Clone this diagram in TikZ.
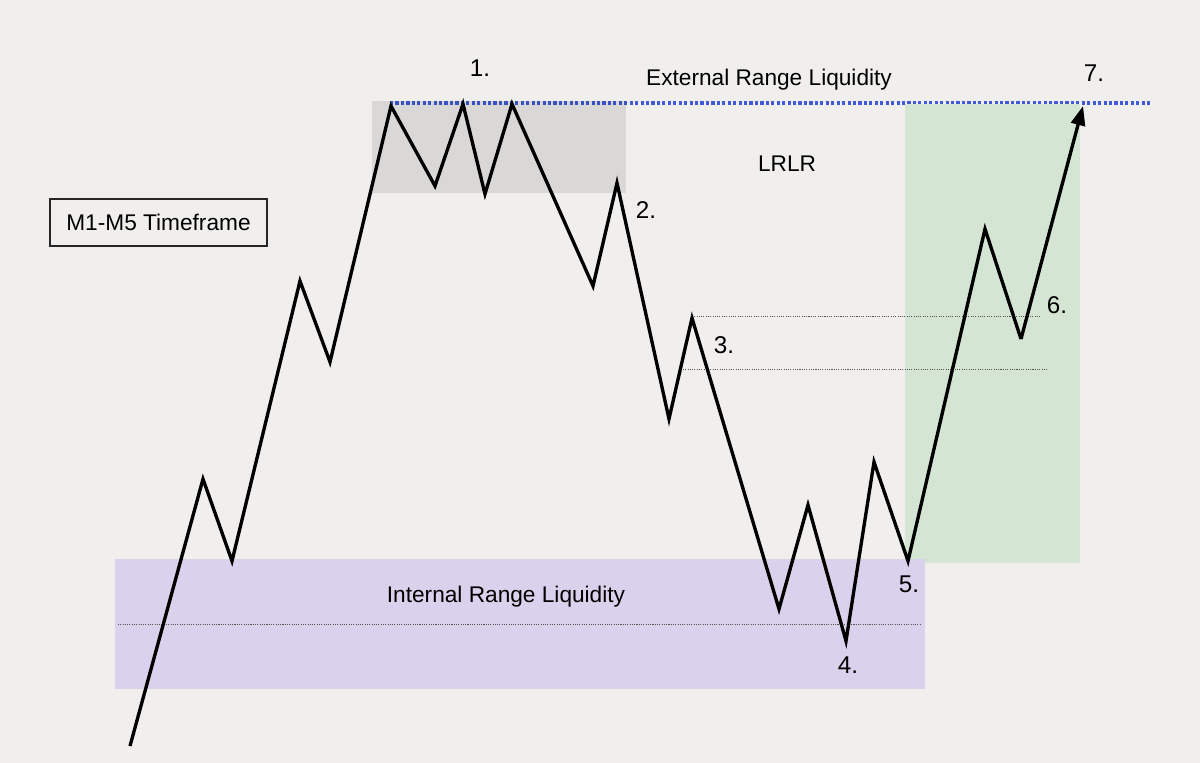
\documentclass[tikz,border=0pt]{standalone}
\usepackage{fontspec}
\setmainfont{Liberation Sans}
\usetikzlibrary{arrows.meta}
\definecolor{bg}{HTML}{F0EFED}
\definecolor{grayzone}{HTML}{DADAD9}
\definecolor{greenzone}{HTML}{D5E5D3}
\definecolor{purplezone}{HTML}{DAD2EC}
\definecolor{liqblue}{HTML}{3F5BD6}
\definecolor{thindot}{HTML}{555555}
\tikzset{
  lbl/.style={font=\fontsize{12.9}{15}\selectfont, text=black, inner sep=0pt},
  numlbl/.style={font=\fontsize{13.8}{16}\selectfont, text=black, inner sep=0pt},
  price/.style={line width=1.9pt, line join=miter, draw=black},
  extline/.style={draw=liqblue, line width=1.8pt, dash pattern=on 1.8pt off 1.3pt},
  levelline/.style={draw=thindot, line width=0.55pt, dash pattern=on 0.6pt off 0.7pt},
  framebox/.style={draw=black!85, line width=1pt, minimum width=217*0.02cm, minimum height=47*0.02cm, font=\fontsize{12.9}{15}\selectfont}
}
\begin{document}
\begin{tikzpicture}[x=0.02cm, y=-0.02cm]
\useasboundingbox (0,0) rectangle (1200,763);
\fill[bg] (0,0) rectangle (1200,763);
% external liquidity line
\coordinate (ela) at (390,103); \coordinate (elb) at (1150,103);
\draw[extline] (ela) -- (elb);
% zones
\fill[black, opacity=0.095] (372,101) rectangle (626,193);
\fill[greenzone] (905,104.5) rectangle (1080,563);
\fill[purplezone] (115,559) rectangle (925,689);
% level lines
\coordinate (l3a) at (692,316); \coordinate (l3b) at (1040,316);
\coordinate (l3c) at (683,369); \coordinate (l3d) at (1047,369);
\coordinate (ila) at (118,624); \coordinate (ilb) at (920,624);
\draw[levelline] (l3a) -- (l3b);
\draw[levelline] (l3c) -- (l3d);
\draw[levelline] (ila) -- (ilb);
% price path
\coordinate (p0) at (130,746);
\coordinate (p1) at (203,479);
\coordinate (p2) at (232,561);
\coordinate (p3) at (300,281);
\coordinate (p4) at (330,362);
\coordinate (p5) at (391,106);
\coordinate (p6) at (435,186);
\coordinate (p7) at (463,104);
\coordinate (p8) at (485,194);
\coordinate (p9) at (512,104);
\coordinate (p10) at (593,286);
\coordinate (p11) at (617,183);
\coordinate (p12) at (669,419);
\coordinate (p13) at (692,318);
\coordinate (p14) at (779,609);
\coordinate (p15) at (808,505);
\coordinate (p16) at (846,641);
\coordinate (p17) at (874,462);
\coordinate (p18) at (908,561);
\coordinate (p19) at (985,229);
\coordinate (p20) at (1021,339);
\coordinate (p21) at (1083,106);
\draw[price] (p0) -- (p1) -- (p2) -- (p3) -- (p4) -- (p5) -- (p6) -- (p7) -- (p8) -- (p9) -- (p10) -- (p11) -- (p12) -- (p13) -- (p14) -- (p15) -- (p16) -- (p17) -- (p18) -- (p19) -- (p20);
\draw[price, -{Triangle[length=11pt, width=8pt]}] (p20) -- (p21);
% labels
\node[numlbl] (n1) at (480,68) {1.};
\node[lbl] (ext) at (769,80) {External Range Liquidity};
\node[numlbl] (n7) at (1094,73) {7.};
\node[lbl] (lrlr) at (787,164) {LRLR};
\node[numlbl] (n2) at (646,210) {2.};
\node[framebox] (tf) at (158.5,222.5) {M1-M5 Timeframe};
\node[numlbl] (n3) at (724,345) {3.};
\node[numlbl] (n6) at (1057,305) {6.};
\node[lbl] (irl) at (506,597) {Internal Range Liquidity};
\node[numlbl] (n5) at (909,584) {5.};
\node[numlbl] (n4) at (848,665) {4.};
\end{tikzpicture}
\end{document}
